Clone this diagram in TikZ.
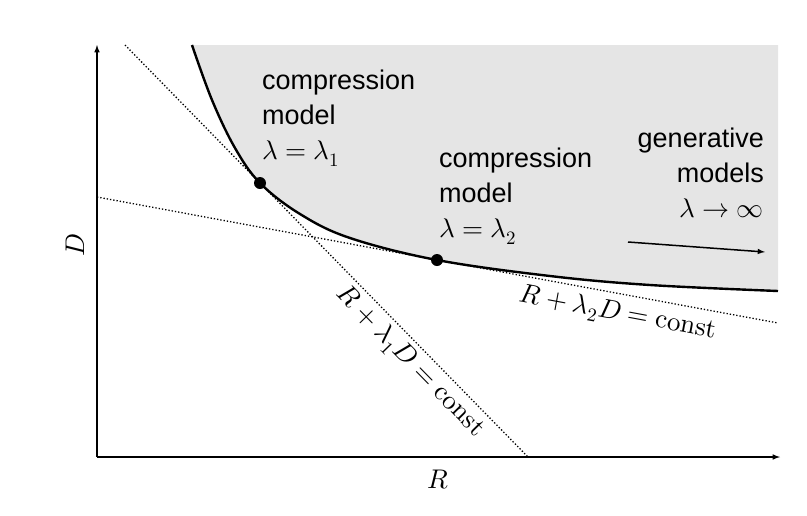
\documentclass[tikz,border=0pt]{standalone}
\usepackage{fontspec}
\setmainfont{Liberation Sans}
\usepackage{unicode-math}
\begin{document}
\begin{tikzpicture}[x=1pt,y=-1pt,
  lbl/.style={font=\fontsize{27}{35}\selectfont,inner sep=0pt},
  dotln/.style={dotted,line width=1.3pt},
  pt/.style={circle,fill=black,inner sep=0pt,minimum size=12pt}]
\useasboundingbox (0,0) rectangle (807,515);
\coordinate (o) at (97,457);
\coordinate (yt) at (97,45);
\coordinate (xt) at (780,457);
\fill[gray!20] plot[smooth,tension=0.6] coordinates {(192,45) (212,100) (235,148) (260,183) (300,214) (350,238) (437,260) (550,276) (650,285) (778,291)} -- (778,45) -- cycle;
\draw[line width=2.4pt] plot[smooth,tension=0.6] coordinates {(192,45) (212,100) (235,148) (260,183) (300,214) (350,238) (437,260) (550,276) (650,285) (778,291)};
\draw[-latex,line width=1.5pt] (o) -- (yt);
\draw[-latex,line width=1.5pt] (o) -- (xt);
\node[lbl] (D) at (75,245) [rotate=90] {$D$};
\node[lbl] (R) at (438,480) {$R$};
\coordinate (l1a) at (125,45); \coordinate (l1b) at (528,457);
\coordinate (l2a) at (97,197); \coordinate (l2b) at (778,323);
\draw[dotln] (l1a) -- (l1b);
\draw[dotln] (l2a) -- (l2b);
\node[pt] (p1) at (260,183) {};
\node[pt] (p2) at (437,260) {};
\node[lbl,align=left,anchor=north west] (t1) at (262,70) {compression\\model\\$\lambda=\lambda_1$};
\node[lbl,align=left,anchor=north west] (t2) at (439,148) {compression\\model\\$\lambda=\lambda_2$};
\node[lbl,align=right,anchor=north east] (t3) at (764,128) {generative\\models\\$\lambda\to\infty$};
\coordinate (a1) at (628,242); \coordinate (a2) at (765,252);
\draw[-latex,line width=1.5pt] (a1) -- (a2);
\node[lbl,rotate=-45.6] (e1) at (410,362) {$R+\lambda_1D=\symup{const}$};
\node[lbl,rotate=-10.5] (e2) at (618,314) {$R+\lambda_2D=\symup{const}$};
\end{tikzpicture}
\end{document}
